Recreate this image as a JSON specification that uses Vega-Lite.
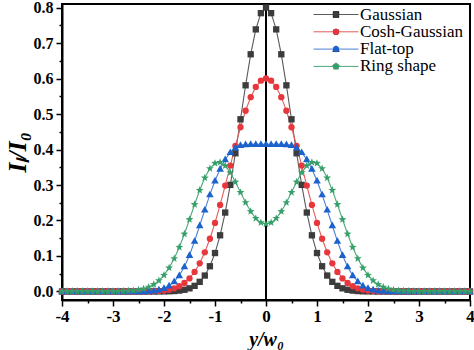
{
  "$schema": "https://vega.github.io/schema/vega-lite/v6.json",
  "width": 408,
  "height": 296,
  "autosize": "none",
  "padding": {"left": 62, "top": 4, "right": 4, "bottom": 50},
  "background": "white",
  "data": {
    "values": [
      {"x":-4,"s":"Gaussian","v":0},{"x":-3.9,"s":"Gaussian","v":0},{"x":-3.8,"s":"Gaussian","v":0},{"x":-3.7,"s":"Gaussian","v":0},{"x":-3.6,"s":"Gaussian","v":0},{"x":-3.5,"s":"Gaussian","v":0},{"x":-3.4,"s":"Gaussian","v":0},{"x":-3.3,"s":"Gaussian","v":0},{"x":-3.2,"s":"Gaussian","v":0},{"x":-3.1,"s":"Gaussian","v":0},
      {"x":-3,"s":"Gaussian","v":0},{"x":-2.9,"s":"Gaussian","v":0},{"x":-2.8,"s":"Gaussian","v":0},{"x":-2.7,"s":"Gaussian","v":0},{"x":-2.6,"s":"Gaussian","v":0},{"x":-2.5,"s":"Gaussian","v":0},{"x":-2.4,"s":"Gaussian","v":0},{"x":-2.3,"s":"Gaussian","v":0},{"x":-2.2,"s":"Gaussian","v":0},{"x":-2.1,"s":"Gaussian","v":0.0001},
      {"x":-2,"s":"Gaussian","v":0.0003},{"x":-1.9,"s":"Gaussian","v":0.0006},{"x":-1.8,"s":"Gaussian","v":0.0012},{"x":-1.7,"s":"Gaussian","v":0.0025},{"x":-1.6,"s":"Gaussian","v":0.0048},{"x":-1.5,"s":"Gaussian","v":0.0089},{"x":-1.4,"s":"Gaussian","v":0.0159},{"x":-1.3,"s":"Gaussian","v":0.0272},{"x":-1.2,"s":"Gaussian","v":0.0449},{"x":-1.1,"s":"Gaussian","v":0.0711},
      {"x":-1,"s":"Gaussian","v":0.1083},{"x":-0.9,"s":"Gaussian","v":0.1583},{"x":-0.8,"s":"Gaussian","v":0.2224},{"x":-0.7,"s":"Gaussian","v":0.3003},{"x":-0.6,"s":"Gaussian","v":0.3894},{"x":-0.5,"s":"Gaussian","v":0.4852},{"x":-0.4,"s":"Gaussian","v":0.5809},{"x":-0.3,"s":"Gaussian","v":0.6683},{"x":-0.2,"s":"Gaussian","v":0.7385},{"x":-0.1,"s":"Gaussian","v":0.7842},
      {"x":0,"s":"Gaussian","v":0.8},
      {"x":0.1,"s":"Gaussian","v":0.7842},{"x":0.2,"s":"Gaussian","v":0.7385},{"x":0.3,"s":"Gaussian","v":0.6683},{"x":0.4,"s":"Gaussian","v":0.5809},{"x":0.5,"s":"Gaussian","v":0.4852},{"x":0.6,"s":"Gaussian","v":0.3894},{"x":0.7,"s":"Gaussian","v":0.3003},{"x":0.8,"s":"Gaussian","v":0.2224},{"x":0.9,"s":"Gaussian","v":0.1583},{"x":1,"s":"Gaussian","v":0.1083},
      {"x":1.1,"s":"Gaussian","v":0.0711},{"x":1.2,"s":"Gaussian","v":0.0449},{"x":1.3,"s":"Gaussian","v":0.0272},{"x":1.4,"s":"Gaussian","v":0.0159},{"x":1.5,"s":"Gaussian","v":0.0089},{"x":1.6,"s":"Gaussian","v":0.0048},{"x":1.7,"s":"Gaussian","v":0.0025},{"x":1.8,"s":"Gaussian","v":0.0012},{"x":1.9,"s":"Gaussian","v":0.0006},{"x":2,"s":"Gaussian","v":0.0003},
      {"x":2.1,"s":"Gaussian","v":0.0001},{"x":2.2,"s":"Gaussian","v":0},{"x":2.3,"s":"Gaussian","v":0},{"x":2.4,"s":"Gaussian","v":0},{"x":2.5,"s":"Gaussian","v":0},{"x":2.6,"s":"Gaussian","v":0},{"x":2.7,"s":"Gaussian","v":0},{"x":2.8,"s":"Gaussian","v":0},{"x":2.9,"s":"Gaussian","v":0},{"x":3,"s":"Gaussian","v":0},
      {"x":3.1,"s":"Gaussian","v":0},{"x":3.2,"s":"Gaussian","v":0},{"x":3.3,"s":"Gaussian","v":0},{"x":3.4,"s":"Gaussian","v":0},{"x":3.5,"s":"Gaussian","v":0},{"x":3.6,"s":"Gaussian","v":0},{"x":3.7,"s":"Gaussian","v":0},{"x":3.8,"s":"Gaussian","v":0},{"x":3.9,"s":"Gaussian","v":0},{"x":4,"s":"Gaussian","v":0},

      {"x":-4,"s":"Cosh-Gaussian","v":0},{"x":-3.9,"s":"Cosh-Gaussian","v":0},{"x":-3.8,"s":"Cosh-Gaussian","v":0},{"x":-3.7,"s":"Cosh-Gaussian","v":0},{"x":-3.6,"s":"Cosh-Gaussian","v":0},{"x":-3.5,"s":"Cosh-Gaussian","v":0},{"x":-3.4,"s":"Cosh-Gaussian","v":0},{"x":-3.3,"s":"Cosh-Gaussian","v":0},{"x":-3.2,"s":"Cosh-Gaussian","v":0},{"x":-3.1,"s":"Cosh-Gaussian","v":0},
      {"x":-3,"s":"Cosh-Gaussian","v":0},{"x":-2.9,"s":"Cosh-Gaussian","v":0},{"x":-2.8,"s":"Cosh-Gaussian","v":0},{"x":-2.7,"s":"Cosh-Gaussian","v":0},{"x":-2.6,"s":"Cosh-Gaussian","v":0},{"x":-2.5,"s":"Cosh-Gaussian","v":0.0001},{"x":-2.4,"s":"Cosh-Gaussian","v":0.0002},{"x":-2.3,"s":"Cosh-Gaussian","v":0.0004},{"x":-2.2,"s":"Cosh-Gaussian","v":0.0008},{"x":-2.1,"s":"Cosh-Gaussian","v":0.0015},
      {"x":-2,"s":"Cosh-Gaussian","v":0.0028},{"x":-1.9,"s":"Cosh-Gaussian","v":0.0051},{"x":-1.8,"s":"Cosh-Gaussian","v":0.0089},{"x":-1.7,"s":"Cosh-Gaussian","v":0.0148},{"x":-1.6,"s":"Cosh-Gaussian","v":0.0238},{"x":-1.5,"s":"Cosh-Gaussian","v":0.0369},{"x":-1.4,"s":"Cosh-Gaussian","v":0.055},{"x":-1.3,"s":"Cosh-Gaussian","v":0.0793},{"x":-1.2,"s":"Cosh-Gaussian","v":0.1104},{"x":-1.1,"s":"Cosh-Gaussian","v":0.1485},
      {"x":-1,"s":"Cosh-Gaussian","v":0.1933},{"x":-0.9,"s":"Cosh-Gaussian","v":0.2439},{"x":-0.8,"s":"Cosh-Gaussian","v":0.2984},{"x":-0.7,"s":"Cosh-Gaussian","v":0.3548},{"x":-0.6,"s":"Cosh-Gaussian","v":0.4105},{"x":-0.5,"s":"Cosh-Gaussian","v":0.4627},{"x":-0.4,"s":"Cosh-Gaussian","v":0.5092},{"x":-0.3,"s":"Cosh-Gaussian","v":0.5476},{"x":-0.2,"s":"Cosh-Gaussian","v":0.5763},{"x":-0.1,"s":"Cosh-Gaussian","v":0.594},
      {"x":0,"s":"Cosh-Gaussian","v":0.6},
      {"x":0.1,"s":"Cosh-Gaussian","v":0.594},{"x":0.2,"s":"Cosh-Gaussian","v":0.5763},{"x":0.3,"s":"Cosh-Gaussian","v":0.5476},{"x":0.4,"s":"Cosh-Gaussian","v":0.5092},{"x":0.5,"s":"Cosh-Gaussian","v":0.4627},{"x":0.6,"s":"Cosh-Gaussian","v":0.4105},{"x":0.7,"s":"Cosh-Gaussian","v":0.3548},{"x":0.8,"s":"Cosh-Gaussian","v":0.2984},{"x":0.9,"s":"Cosh-Gaussian","v":0.2439},{"x":1,"s":"Cosh-Gaussian","v":0.1933},
      {"x":1.1,"s":"Cosh-Gaussian","v":0.1485},{"x":1.2,"s":"Cosh-Gaussian","v":0.1104},{"x":1.3,"s":"Cosh-Gaussian","v":0.0793},{"x":1.4,"s":"Cosh-Gaussian","v":0.055},{"x":1.5,"s":"Cosh-Gaussian","v":0.0369},{"x":1.6,"s":"Cosh-Gaussian","v":0.0238},{"x":1.7,"s":"Cosh-Gaussian","v":0.0148},{"x":1.8,"s":"Cosh-Gaussian","v":0.0089},{"x":1.9,"s":"Cosh-Gaussian","v":0.0051},{"x":2,"s":"Cosh-Gaussian","v":0.0028},
      {"x":2.1,"s":"Cosh-Gaussian","v":0.0015},{"x":2.2,"s":"Cosh-Gaussian","v":0.0008},{"x":2.3,"s":"Cosh-Gaussian","v":0.0004},{"x":2.4,"s":"Cosh-Gaussian","v":0.0002},{"x":2.5,"s":"Cosh-Gaussian","v":0.0001},{"x":2.6,"s":"Cosh-Gaussian","v":0},{"x":2.7,"s":"Cosh-Gaussian","v":0},{"x":2.8,"s":"Cosh-Gaussian","v":0},{"x":2.9,"s":"Cosh-Gaussian","v":0},{"x":3,"s":"Cosh-Gaussian","v":0},
      {"x":3.1,"s":"Cosh-Gaussian","v":0},{"x":3.2,"s":"Cosh-Gaussian","v":0},{"x":3.3,"s":"Cosh-Gaussian","v":0},{"x":3.4,"s":"Cosh-Gaussian","v":0},{"x":3.5,"s":"Cosh-Gaussian","v":0},{"x":3.6,"s":"Cosh-Gaussian","v":0},{"x":3.7,"s":"Cosh-Gaussian","v":0},{"x":3.8,"s":"Cosh-Gaussian","v":0},{"x":3.9,"s":"Cosh-Gaussian","v":0},{"x":4,"s":"Cosh-Gaussian","v":0},

      {"x":-4,"s":"Flat-top","v":0},{"x":-3.9,"s":"Flat-top","v":0},{"x":-3.8,"s":"Flat-top","v":0},{"x":-3.7,"s":"Flat-top","v":0},{"x":-3.6,"s":"Flat-top","v":0},{"x":-3.5,"s":"Flat-top","v":0},{"x":-3.4,"s":"Flat-top","v":0},{"x":-3.3,"s":"Flat-top","v":0},{"x":-3.2,"s":"Flat-top","v":0},{"x":-3.1,"s":"Flat-top","v":0},
      {"x":-3,"s":"Flat-top","v":0},{"x":-2.9,"s":"Flat-top","v":0},{"x":-2.8,"s":"Flat-top","v":0},{"x":-2.7,"s":"Flat-top","v":0},{"x":-2.6,"s":"Flat-top","v":0},{"x":-2.5,"s":"Flat-top","v":0},{"x":-2.4,"s":"Flat-top","v":0},{"x":-2.3,"s":"Flat-top","v":0.001},{"x":-2.2,"s":"Flat-top","v":0.002},{"x":-2.1,"s":"Flat-top","v":0.005},
      {"x":-2,"s":"Flat-top","v":0.009},{"x":-1.9,"s":"Flat-top","v":0.016},{"x":-1.8,"s":"Flat-top","v":0.028},{"x":-1.7,"s":"Flat-top","v":0.045},{"x":-1.6,"s":"Flat-top","v":0.07},{"x":-1.5,"s":"Flat-top","v":0.102},{"x":-1.4,"s":"Flat-top","v":0.142},{"x":-1.3,"s":"Flat-top","v":0.186},{"x":-1.2,"s":"Flat-top","v":0.23},{"x":-1.1,"s":"Flat-top","v":0.273},
      {"x":-1,"s":"Flat-top","v":0.312},{"x":-0.9,"s":"Flat-top","v":0.345},{"x":-0.8,"s":"Flat-top","v":0.372},{"x":-0.7,"s":"Flat-top","v":0.392},{"x":-0.6,"s":"Flat-top","v":0.405},{"x":-0.5,"s":"Flat-top","v":0.412},{"x":-0.4,"s":"Flat-top","v":0.414},{"x":-0.3,"s":"Flat-top","v":0.415},{"x":-0.2,"s":"Flat-top","v":0.415},{"x":-0.1,"s":"Flat-top","v":0.415},
      {"x":0,"s":"Flat-top","v":0.415},
      {"x":0.1,"s":"Flat-top","v":0.415},{"x":0.2,"s":"Flat-top","v":0.415},{"x":0.3,"s":"Flat-top","v":0.415},{"x":0.4,"s":"Flat-top","v":0.414},{"x":0.5,"s":"Flat-top","v":0.412},{"x":0.6,"s":"Flat-top","v":0.405},{"x":0.7,"s":"Flat-top","v":0.392},{"x":0.8,"s":"Flat-top","v":0.372},{"x":0.9,"s":"Flat-top","v":0.345},{"x":1,"s":"Flat-top","v":0.312},
      {"x":1.1,"s":"Flat-top","v":0.273},{"x":1.2,"s":"Flat-top","v":0.23},{"x":1.3,"s":"Flat-top","v":0.186},{"x":1.4,"s":"Flat-top","v":0.142},{"x":1.5,"s":"Flat-top","v":0.102},{"x":1.6,"s":"Flat-top","v":0.07},{"x":1.7,"s":"Flat-top","v":0.045},{"x":1.8,"s":"Flat-top","v":0.028},{"x":1.9,"s":"Flat-top","v":0.016},{"x":2,"s":"Flat-top","v":0.009},
      {"x":2.1,"s":"Flat-top","v":0.005},{"x":2.2,"s":"Flat-top","v":0.002},{"x":2.3,"s":"Flat-top","v":0.001},{"x":2.4,"s":"Flat-top","v":0},{"x":2.5,"s":"Flat-top","v":0},{"x":2.6,"s":"Flat-top","v":0},{"x":2.7,"s":"Flat-top","v":0},{"x":2.8,"s":"Flat-top","v":0},{"x":2.9,"s":"Flat-top","v":0},{"x":3,"s":"Flat-top","v":0},
      {"x":3.1,"s":"Flat-top","v":0},{"x":3.2,"s":"Flat-top","v":0},{"x":3.3,"s":"Flat-top","v":0},{"x":3.4,"s":"Flat-top","v":0},{"x":3.5,"s":"Flat-top","v":0},{"x":3.6,"s":"Flat-top","v":0},{"x":3.7,"s":"Flat-top","v":0},{"x":3.8,"s":"Flat-top","v":0},{"x":3.9,"s":"Flat-top","v":0},{"x":4,"s":"Flat-top","v":0},

      {"x":-4,"s":"Ring shape","v":0},{"x":-3.9,"s":"Ring shape","v":0},{"x":-3.8,"s":"Ring shape","v":0},{"x":-3.7,"s":"Ring shape","v":0},{"x":-3.6,"s":"Ring shape","v":0},{"x":-3.5,"s":"Ring shape","v":0},{"x":-3.4,"s":"Ring shape","v":0},{"x":-3.3,"s":"Ring shape","v":0},{"x":-3.2,"s":"Ring shape","v":0},{"x":-3.1,"s":"Ring shape","v":0.0001},
      {"x":-3,"s":"Ring shape","v":0.0002},{"x":-2.9,"s":"Ring shape","v":0.0004},{"x":-2.8,"s":"Ring shape","v":0.0007},{"x":-2.7,"s":"Ring shape","v":0.0014},{"x":-2.6,"s":"Ring shape","v":0.0025},{"x":-2.5,"s":"Ring shape","v":0.0044},{"x":-2.4,"s":"Ring shape","v":0.0075},{"x":-2.3,"s":"Ring shape","v":0.0124},{"x":-2.2,"s":"Ring shape","v":0.0199},{"x":-2.1,"s":"Ring shape","v":0.0307},
      {"x":-2,"s":"Ring shape","v":0.046},{"x":-1.9,"s":"Ring shape","v":0.0665},{"x":-1.8,"s":"Ring shape","v":0.0927},{"x":-1.7,"s":"Ring shape","v":0.1248},{"x":-1.6,"s":"Ring shape","v":0.1621},{"x":-1.5,"s":"Ring shape","v":0.2031},{"x":-1.4,"s":"Ring shape","v":0.2452},{"x":-1.3,"s":"Ring shape","v":0.2854},{"x":-1.2,"s":"Ring shape","v":0.3202},{"x":-1.1,"s":"Ring shape","v":0.3464},
      {"x":-1,"s":"Ring shape","v":0.3613},{"x":-0.9,"s":"Ring shape","v":0.3638},{"x":-0.8,"s":"Ring shape","v":0.3543},{"x":-0.7,"s":"Ring shape","v":0.3349},{"x":-0.6,"s":"Ring shape","v":0.3087},{"x":-0.5,"s":"Ring shape","v":0.2793},{"x":-0.4,"s":"Ring shape","v":0.2506},{"x":-0.3,"s":"Ring shape","v":0.2254},{"x":-0.2,"s":"Ring shape","v":0.2061},{"x":-0.1,"s":"Ring shape","v":0.1941},
      {"x":0,"s":"Ring shape","v":0.19},
      {"x":0.1,"s":"Ring shape","v":0.1941},{"x":0.2,"s":"Ring shape","v":0.2061},{"x":0.3,"s":"Ring shape","v":0.2254},{"x":0.4,"s":"Ring shape","v":0.2506},{"x":0.5,"s":"Ring shape","v":0.2793},{"x":0.6,"s":"Ring shape","v":0.3087},{"x":0.7,"s":"Ring shape","v":0.3349},{"x":0.8,"s":"Ring shape","v":0.3543},{"x":0.9,"s":"Ring shape","v":0.3638},{"x":1,"s":"Ring shape","v":0.3613},
      {"x":1.1,"s":"Ring shape","v":0.3464},{"x":1.2,"s":"Ring shape","v":0.3202},{"x":1.3,"s":"Ring shape","v":0.2854},{"x":1.4,"s":"Ring shape","v":0.2452},{"x":1.5,"s":"Ring shape","v":0.2031},{"x":1.6,"s":"Ring shape","v":0.1621},{"x":1.7,"s":"Ring shape","v":0.1248},{"x":1.8,"s":"Ring shape","v":0.0927},{"x":1.9,"s":"Ring shape","v":0.0665},{"x":2,"s":"Ring shape","v":0.046},
      {"x":2.1,"s":"Ring shape","v":0.0307},{"x":2.2,"s":"Ring shape","v":0.0199},{"x":2.3,"s":"Ring shape","v":0.0124},{"x":2.4,"s":"Ring shape","v":0.0075},{"x":2.5,"s":"Ring shape","v":0.0044},{"x":2.6,"s":"Ring shape","v":0.0025},{"x":2.7,"s":"Ring shape","v":0.0014},{"x":2.8,"s":"Ring shape","v":0.0007},{"x":2.9,"s":"Ring shape","v":0.0004},{"x":3,"s":"Ring shape","v":0.0002},
      {"x":3.1,"s":"Ring shape","v":0.0001},{"x":3.2,"s":"Ring shape","v":0},{"x":3.3,"s":"Ring shape","v":0},{"x":3.4,"s":"Ring shape","v":0},{"x":3.5,"s":"Ring shape","v":0},{"x":3.6,"s":"Ring shape","v":0},{"x":3.7,"s":"Ring shape","v":0},{"x":3.8,"s":"Ring shape","v":0},{"x":3.9,"s":"Ring shape","v":0},{"x":4,"s":"Ring shape","v":0}
    ]
  },
  "encoding": {
    "x": {
      "field": "x",
      "type": "quantitative",
      "scale": {"domain": [-4, 4], "nice": false, "zero": false},
      "axis": {
        "values": [-4, -3.5, -3, -2.5, -2, -1.5, -1, -0.5, 0, 0.5, 1, 1.5, 2, 2.5, 3, 3.5, 4],
        "labelExpr": "datum.value % 1 == 0 ? '' + datum.value : ''",
        "tickSize": {"condition": {"test": "datum.value % 1 == 0", "value": 6}, "value": 3},
        "labelFontSize": 17,
        "labelPadding": 2,
        "title": "y/w₀",
        "titleFontSize": 20,
        "titlePadding": 5
      }
    },
    "y": {
      "field": "v",
      "type": "quantitative",
      "scale": {"domain": [-0.024, 0.81], "nice": false, "zero": false},
      "axis": {
        "values": [0, 0.05, 0.1, 0.15, 0.2, 0.25, 0.3, 0.35, 0.4, 0.45, 0.5, 0.55, 0.6, 0.65, 0.7, 0.75, 0.8],
        "labelExpr": "round(datum.value * 20) % 2 == 0 ? format(datum.value, '.1f') : ''",
        "tickSize": {"condition": {"test": "round(datum.value * 20) % 2 == 0", "value": 6}, "value": 3},
        "labelFontSize": 16,
        "labelPadding": 3,
        "title": "Iₗ/I₀",
        "titleFontSize": 26,
        "titlePadding": 3
      }
    }
  },
  "layer": [
    {
      "mark": {"type": "rule", "color": "black", "strokeWidth": 2},
      "encoding": {"x": {"datum": 0, "type": "quantitative"}, "y": null}
    },
    {
      "mark": {"type": "line", "strokeWidth": 1.1},
      "encoding": {
        "stroke": {
          "field": "s",
          "type": "nominal",
          "scale": {
            "domain": ["Gaussian", "Cosh-Gaussian", "Flat-top", "Ring shape"],
            "range": ["#5a5a5a", "#e45c5c", "#4a80d4", "#4aa878"]
          },
          "legend": {
            "title": null,
            "orient": "none",
            "legendX": 251,
            "legendY": 2.5,
            "padding": 0,
            "symbolType": "stroke",
            "symbolSize": 2025,
            "symbolStrokeWidth": 1,
            "labelFont": "Liberation Serif",
            "labelFontSize": 17,
            "labelColor": "black",
            "labelOffset": 1,
            "clipHeight": 16,
            "rowPadding": 0.3
          }
        }
      }
    },
    {
      "mark": {"type": "point", "filled": true, "opacity": 1, "size": 40, "strokeWidth": 0},
      "encoding": {
        "fill": {
          "field": "s",
          "type": "nominal",
          "sort": ["Gaussian", "Cosh-Gaussian", "Flat-top", "Ring shape"],
          "scale": {"range": ["#3c3c3c", "#e8373c", "#1c62cc", "#37a06a"]},
          "legend": {
            "title": null,
            "orient": "none",
            "legendX": 265.5,
            "legendY": 2.5,
            "padding": 0,
            "symbolSize": 40,
            "symbolStrokeWidth": 0,
            "labelFont": "Liberation Serif",
            "labelFontSize": 17,
            "labelExpr": "''",
            "labelOffset": 1,
            "clipHeight": 16,
            "rowPadding": 0.3
          }
        },
        "shape": {
          "field": "s",
          "type": "nominal",
          "sort": ["Gaussian", "Cosh-Gaussian", "Flat-top", "Ring shape"],
          "scale": {
            "range": [
              "square",
              "circle",
              "M0,-1.25L1.2,0.85L-1.2,0.85Z",
              "M0,-1.3L0.32,-0.44L1.24,-0.4L0.52,0.17L0.76,1.05L0,0.55L-0.76,1.05L-0.52,0.17L-1.24,-0.4L-0.32,-0.44Z"
            ]
          },
          "legend": {
            "title": null,
            "orient": "none",
            "legendX": 265.5,
            "legendY": 2.5,
            "padding": 0,
            "symbolSize": 40,
            "symbolStrokeWidth": 0,
            "labelFont": "Liberation Serif",
            "labelFontSize": 17,
            "labelExpr": "''",
            "labelOffset": 1,
            "clipHeight": 16,
            "rowPadding": 0.3
          }
        }
      }
    }
  ],
  "config": {
    "view": {"stroke": "black", "strokeWidth": 2},
    "axis": {
      "grid": false,
      "domainColor": "black",
      "domainWidth": 2,
      "tickColor": "black",
      "tickWidth": 1.5,
      "labelFlush": false,
      "labelFont": "Liberation Serif",
      "labelFontWeight": "bold",
      "labelColor": "black",
      "titleFont": "Liberation Serif",
      "titleFontWeight": "bold",
      "titleFontStyle": "italic",
      "titleColor": "black"
    }
  }
}
